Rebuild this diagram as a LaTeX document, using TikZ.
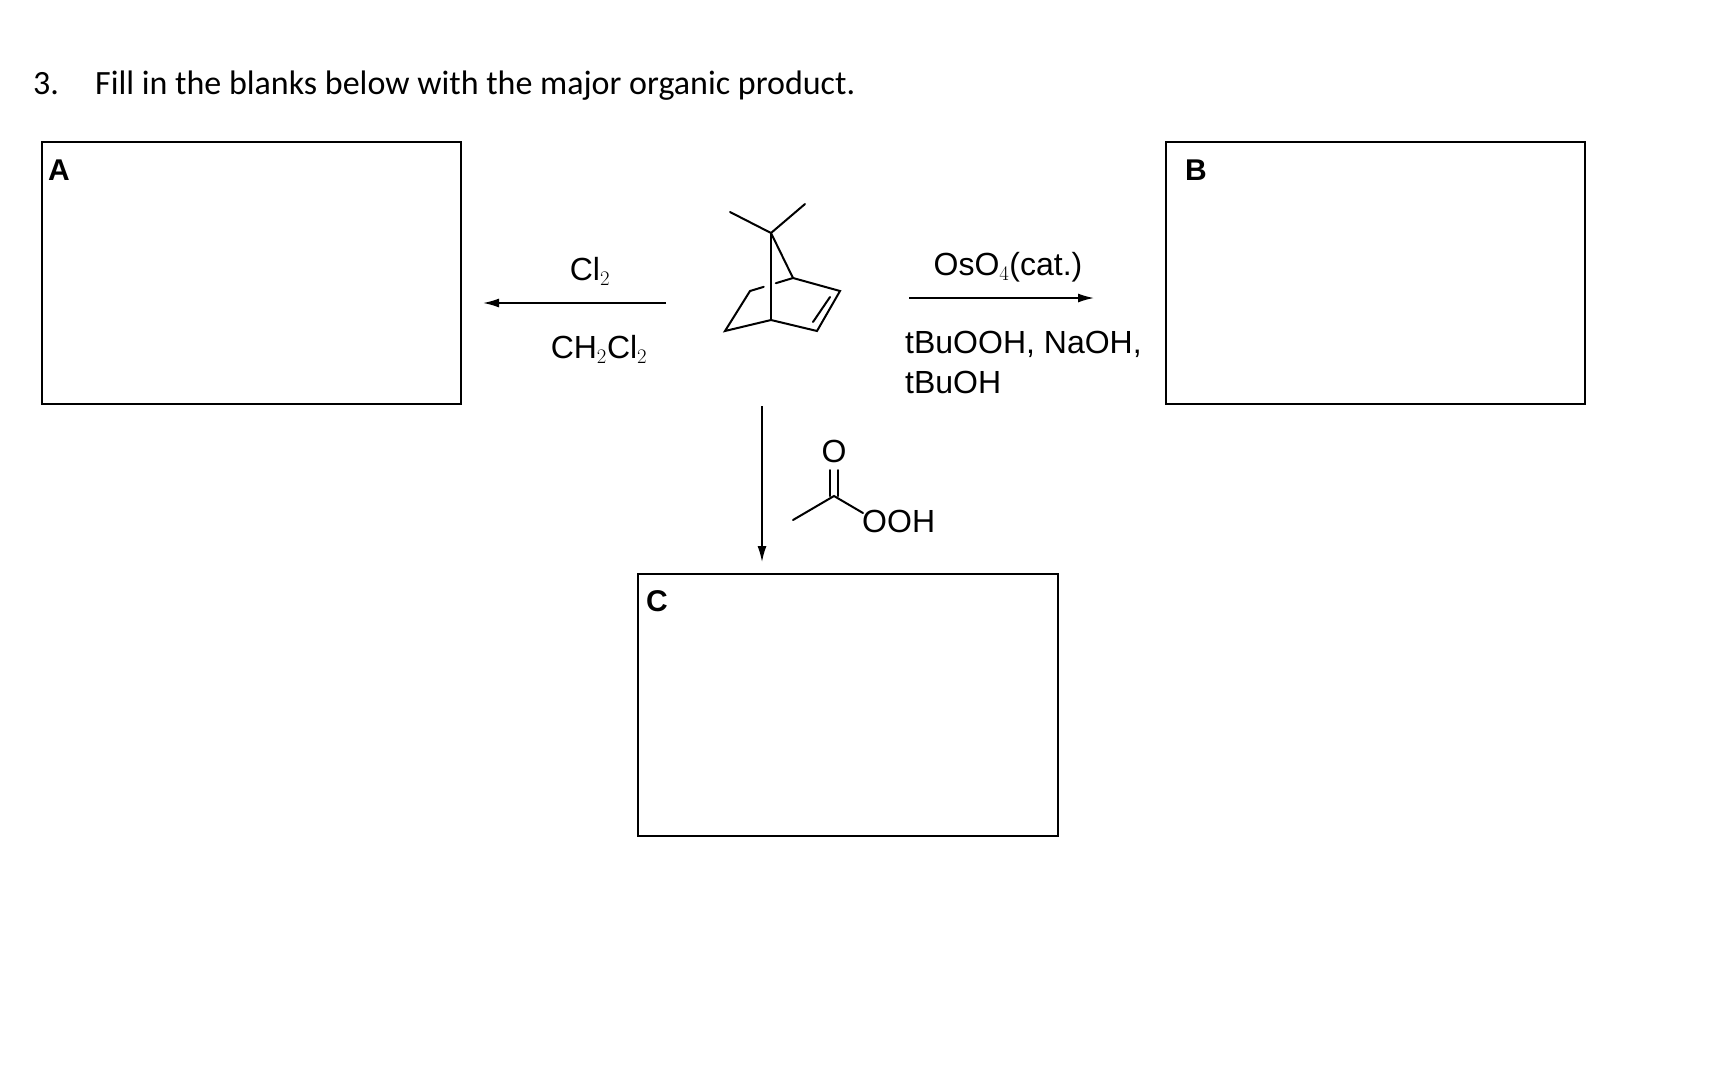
\documentclass[tikz,border=0pt]{standalone}
\usepackage{fontspec}
\setmainfont{Liberation Sans}
\newfontfamily\titlefont{Carlito}
\usetikzlibrary{arrows.meta,calc}
\tikzset{box/.style={draw,line width=1.8pt},
 lbl/.style={font=\fontsize{30}{34}\selectfont\bfseries,anchor=center},
 chem/.style={font=\fontsize{32}{38}\selectfont,inner sep=0pt},
 arr/.style={line width=1.6pt,-{Latex[length=16pt,width=9pt]}},
 bond/.style={line width=2pt,line cap=round}}
\begin{document}
\begin{tikzpicture}[x=1pt,y=-1pt]
\useasboundingbox[fill=white] (0,0) rectangle (1720,1090);
\node[font=\titlefont\fontsize{34}{40}\selectfont,anchor=base west,inner sep=0pt] (t3) at (33,94) {3.};
\node[font=\titlefont\fontsize{34}{40}\selectfont,anchor=base west,inner sep=0pt] (title) at (95,94) {Fill in the blanks below with the major organic product.};
\draw[box] (42,142) rectangle (461,404); \node[lbl] (la) at (59,170) {A};
\draw[box] (1166,142) rectangle (1585,404); \node[lbl] (lb) at (1196,170) {B};
\draw[box] (638,574) rectangle (1058,836); \node[lbl] (lc) at (657,601) {C};
% left
\coordinate (l1) at (666,303); \coordinate (l2) at (483,303);
\draw[arr] (l1) -- (l2);
\node[chem] (cl2) at (590,271) {Cl$_2$};
\node[chem] (dcm) at (599,349) {CH$_2$Cl$_2$};
% right
\coordinate (r1) at (909,298); \coordinate (r2) at (1094,298);
\draw[arr] (r1) -- (r2);
\node[chem] (os) at (1008,267) {OsO$_4$(cat.)};
\node[chem,anchor=west] (tb1) at (905,344) {tBuOOH, NaOH,};
\node[chem,anchor=west] (tb2) at (905,382) {tBuOH};
% down
\coordinate (d1) at (762,406); \coordinate (d2) at (762,562);
\draw[arr] (d1) -- (d2);
% molecule
\coordinate (ap) at (771,233); \coordinate (m1) at (730,212); \coordinate (m2) at (805,204);
\coordinate (bb) at (771,320); \coordinate (tb) at (793,278);
\coordinate (bl) at (750,291); \coordinate (fl) at (725,331);
\coordinate (fr) at (817,331); \coordinate (br) at (840,291);
\draw[bond] (m1) -- (ap) -- (m2);
\draw[bond] (ap) -- (bb); \draw[bond] (ap) -- (tb);
\draw[bond] (tb) -- ($(tb)!0.4!(bl)$);
\draw[bond] ($(tb)!0.68!(bl)$) -- (bl) -- (fl) -- (bb) -- (fr) -- (br) -- (tb);
\draw[bond] (813,322) -- (830,297);
% peracid
\coordinate (pc) at (834,496); \coordinate (pm) at (793,520);
\draw[bond] (pm) -- (pc) -- (863,513);
\draw[bond] (830,496) -- (830,470); \draw[bond] (838,496) -- (838,470);
\node[chem] (po) at (834,451) {O};
\node[chem,anchor=west] (ooh) at (862,521) {OOH};
\end{tikzpicture}
\end{document}
